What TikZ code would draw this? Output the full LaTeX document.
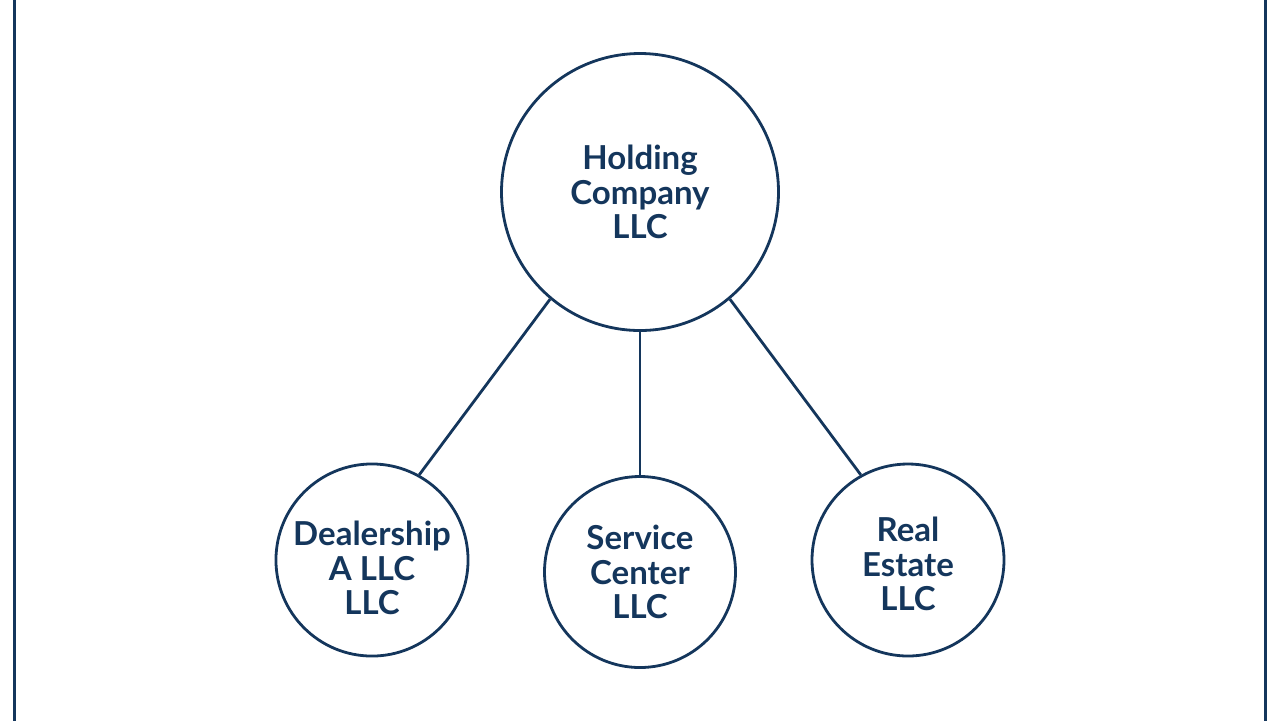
\documentclass[tikz,border=0pt]{standalone}
\usepackage{fontspec}
\setmainfont{Lato}
\usetikzlibrary{positioning}
\definecolor{navy}{HTML}{14365C}
\newcommand{\dropline}[1]{\rule{0pt}{#1}}
\tikzset{
    entity/.style={circle, draw=navy, line width=1.4pt, text=navy, align=center, inner sep=0pt, font=\fontsize{16.5}{17.2}\selectfont\bfseries},
    link/.style={draw=navy, line width=1.4pt}
}
\begin{document}
\begin{tikzpicture}[x=0.5pt, y=-0.5pt]
    \useasboundingbox (0,0) rectangle (1280,720);
    \draw[navy, line width=1.4pt] (14.5,-5) -- (14.5,725);
    \draw[navy, line width=1.4pt] (1265.5,-5) -- (1265.5,725);
    \node[entity, minimum size=138.5pt] (holding) at (640,192) {Holding\\Company\\LLC};
    \node[entity, minimum size=96pt] (dealer) at (372,560) {\dropline{20.5pt}Dealership\\A LLC\\LLC};
    \node[entity, minimum size=95.5pt] (service) at (640,572) {Service\\Center\\LLC};
    \node[entity, minimum size=96pt] (estate) at (908,560) {\dropline{16.5pt}Real\\Estate\\LLC};
    \draw[link] (holding.230.5) -- (dealer.61.3);
    \draw[link] (holding) -- (service);
    \draw[link] (holding.-50.5) -- (estate.119);
\end{tikzpicture}
\end{document}
